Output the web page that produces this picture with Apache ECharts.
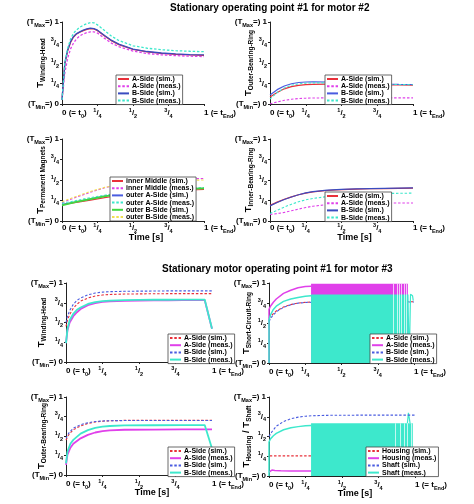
<!DOCTYPE html>
<html><head><meta charset="utf-8">
<script src="https://cdn.jsdelivr.net/npm/echarts@6/dist/echarts.min.js"></script>
<style>html,body{margin:0;padding:0;background:#fff}#c{width:474px;height:504px}</style>
</head><body><div id="c"></div>
<script>
// ---------- tick labels ----------
const xTickValues = [0, 0.25, 0.5, 0.75, 1];
const xTickLabels = ['{n|0 (= t}{s|0}{n|)}', '{sup|1}{sl|/}{sub|4}', '{sup|1}{sl|/}{sub|2}', '{sup|3}{sl|/}{sub|4}', '{n|1 (= t}{s|End}{n|)}'];
const yTickLabels = ['{n|(T}{s|Min}{n|=) 0}', '{sup|1}{sl|/}{sub|4}', '{sup|1}{sl|/}{sub|2}', '{sup|3}{sl|/}{sub|4}', '{n|(T}{s|Max}{n|=) 1}'];
const titles = ['Stationary operating point #1 for motor #2', 'Stationary motor operating point #1 for motor #3'];
const yNames = ['Winding-Head', 'Outer-Bearing-Ring', 'Permanent Magnets', 'Inner-Bearing-Ring', 'Winding-Head', 'Short-Circuit-Ring', 'Outer-Bearing-Ring', 'Housing / Shaft'];

// ---------- panel 1 ----------
const t1 = [0,0.02,0.04,0.06,0.08,0.1,0.125,0.15,0.175,0.2,0.225,0.25,0.3,0.35,0.4,0.5,0.6,0.7,0.8,0.9,1.0];
const p1ASim  = [0.05,0.49,0.65,0.75,0.815,0.85,0.875,0.895,0.91,0.92,0.915,0.895,0.83,0.77,0.725,0.665,0.635,0.617,0.606,0.598,0.592];
const p1AMeas = [0.05,0.38,0.56,0.67,0.74,0.79,0.83,0.855,0.87,0.88,0.88,0.865,0.8,0.74,0.7,0.645,0.615,0.6,0.59,0.583,0.578];
const p1BSim  = [0.05,0.5,0.66,0.76,0.82,0.855,0.88,0.9,0.915,0.925,0.92,0.9,0.835,0.775,0.73,0.67,0.64,0.622,0.611,0.603,0.598];
const p1BMeas = [0.05,0.5,0.68,0.79,0.86,0.9,0.935,0.96,0.98,0.993,0.99,0.965,0.895,0.825,0.775,0.71,0.68,0.662,0.65,0.643,0.638];
// ---------- panel 2 ----------
const t2 = [0,0.05,0.1,0.15,0.2,0.25,0.3,0.4,0.5,0.6,0.7,0.8,0.9,1.0];
const p2ASim  = [0.085,0.14,0.185,0.212,0.228,0.236,0.24,0.242,0.241,0.239,0.236,0.234,0.232,0.231];
const p2AMeas = [0.0,0.025,0.045,0.058,0.066,0.071,0.073,0.075,0.075,0.075,0.075,0.075,0.075,0.075];
const p2BSim  = [0.11,0.175,0.22,0.247,0.262,0.268,0.27,0.268,0.262,0.255,0.249,0.244,0.24,0.238];
const p2BMeas = [0.06,0.14,0.195,0.228,0.246,0.255,0.258,0.258,0.254,0.249,0.244,0.24,0.237,0.235];
// ---------- panel 3 ----------
const t3 = [0,0.1,0.2,0.3,0.4,0.5,0.6,0.7,0.8,0.9,1.0];
const p3InSim   = [0.2,0.225,0.255,0.285,0.31,0.33,0.345,0.36,0.37,0.378,0.385];
const p3InMeas  = [0.225,0.29,0.35,0.405,0.445,0.47,0.488,0.5,0.51,0.515,0.518];
const p3OASim   = [0.2,0.235,0.27,0.305,0.33,0.35,0.365,0.378,0.388,0.395,0.4];
const p3OAMeas  = [0.215,0.25,0.285,0.315,0.34,0.36,0.375,0.388,0.397,0.403,0.408];
const p3OBSim   = [0.19,0.232,0.268,0.3,0.327,0.347,0.362,0.375,0.385,0.392,0.397];
const p3OBMeas  = [0.235,0.3,0.36,0.41,0.44,0.46,0.475,0.485,0.492,0.497,0.5];
// ---------- panel 4 ----------
const t4 = [0,0.05,0.1,0.15,0.2,0.25,0.3,0.4,0.5,0.6,0.7,0.8,0.9,1.0];
const p4ASim  = [0.19,0.23,0.265,0.295,0.32,0.34,0.355,0.372,0.382,0.388,0.393,0.396,0.398,0.4];
const p4AMeas = [0.08,0.09,0.105,0.125,0.145,0.165,0.18,0.2,0.21,0.215,0.218,0.22,0.22,0.22];
const p4BSim  = [0.185,0.225,0.262,0.293,0.32,0.342,0.358,0.376,0.386,0.392,0.396,0.399,0.401,0.403];
const p4BMeas = [0.09,0.13,0.17,0.205,0.235,0.258,0.275,0.298,0.312,0.322,0.33,0.335,0.338,0.34];
// ---------- panel 5 ----------
const t5 = [0,0.01,0.025,0.05,0.075,0.1,0.15,0.2,0.25,0.3,0.4,0.5,0.6,0.7,0.8,0.9,1.0];
const p5ASim = [0.45,0.53,0.6,0.68,0.73,0.77,0.81,0.835,0.848,0.855,0.86,0.862,0.864,0.865,0.865,0.865,0.865];
const p5BSim = [0.5,0.58,0.65,0.73,0.78,0.81,0.85,0.873,0.885,0.89,0.895,0.897,0.898,0.9,0.9,0.9,0.9];
const t5m = [0,0.01,0.025,0.05,0.075,0.1,0.15,0.2,0.25,0.3,0.4,0.5,0.6,0.7,0.8,0.9,0.95,1.0];
const p5AMeas = [0.24,0.4,0.5,0.58,0.63,0.67,0.72,0.745,0.76,0.768,0.775,0.778,0.78,0.78,0.782,0.783,0.783,0.42];
const p5BMeas = [0.24,0.42,0.53,0.61,0.66,0.69,0.735,0.758,0.77,0.777,0.783,0.786,0.788,0.788,0.79,0.79,0.79,0.42];
// ---------- panel 6 ----------
const t6 = [0,0.02,0.05,0.1,0.15,0.2,0.25,0.3,0.4,0.6,0.8,1.0];
const p6ASim = [0.56,0.6,0.65,0.7,0.73,0.75,0.758,0.762,0.765,0.765,0.765,0.765];
const p6BSim = [0.52,0.58,0.64,0.695,0.728,0.748,0.756,0.76,0.762,0.762,0.762,0.762];
const t6m = [0,0,0.01,0.03,0.05,0.1,0.15,0.2,0.25,0.29];
const p6AMeas = [0.0,0.67,0.71,0.76,0.8,0.87,0.91,0.94,0.955,0.96];
const p6BMeas = [0.0,0.54,0.6,0.67,0.71,0.77,0.8,0.82,0.835,0.84];
const t6tail = [0.958,0.966,0.967,0.975,0.976,0.99,0.995];
const p6BTail = [0.855,0.855,0.0,0.0,0.86,0.84,0.78];
const p6BandT = [0.29, 0.958];
const p6ABand = [0.99, 0.99];
const p6BBand = [0.855, 0.855];
const p6Gaps = [0.86, 0.885, 0.9, 0.915, 0.93, 0.945];
// ---------- panel 7 ----------
const t7 = [0,0.02,0.05,0.1,0.15,0.2,0.25,0.3,0.4,0.6,0.8,1.0];
const p7ASim = [0.45,0.52,0.58,0.63,0.66,0.68,0.69,0.695,0.7,0.7,0.7,0.7];
const p7BSim = [0.47,0.54,0.6,0.645,0.67,0.685,0.692,0.696,0.698,0.698,0.698,0.698];
const t7m = [0,0.01,0.03,0.05,0.1,0.15,0.2,0.25,0.3,0.4,0.6,0.8,0.95,1.0];
const p7AMeas = [0.13,0.26,0.35,0.4,0.47,0.515,0.545,0.562,0.572,0.58,0.583,0.585,0.585,0.585];
const p7BMeas = [0.15,0.3,0.4,0.45,0.53,0.575,0.605,0.62,0.628,0.635,0.638,0.64,0.64,0.34];
// ---------- panel 8 ----------
const t8 = [0,0.02,0.05,0.1,0.15,0.2,0.25,0.3,0.4,0.6,0.8,1.0];
const p8ShaftSim = [0.5,0.56,0.63,0.69,0.725,0.745,0.757,0.763,0.768,0.77,0.77,0.77];
const t8h = [0.005,0.1,0.2,0.29,0.5,1.0];
const p8HousSim = [0.255,0.255,0.255,0.255,0.255,0.255];
const t8hm = [0,0.005,0.02,0.04,0.08,0.15,0.29];
const p8HousMeas = [0.05,0.07,0.075,0.07,0.065,0.062,0.062];
const t8sm = [0,0,0.01,0.03,0.05,0.1,0.15,0.2,0.25,0.29];
const p8ShaftMeas = [0,0.43,0.47,0.51,0.54,0.585,0.61,0.625,0.635,0.64];
const t8spike = [0.948,0.955,0.962,0.966];
const p8Spike = [0.67,0.8,0.72,0.67];
const p8BandT = [0.288, 0.985];
const p8Band = [0.667, 0.667];
const p8Gaps = [0.865, 0.9, 0.925, 0.945, 0.975];

// ---------- styles ----------
const F = '"Liberation Sans", Arial, Helvetica, sans-serif';
const RED = '#e8303a', MAG = '#e040ea', BLUE = '#3a4cc0', BLUED = '#4a5ce0', CYAN = '#3de8cc', GREEN = '#40d840', YEL = '#f0e050';
const zip = (t, v) => t.map((x, i) => [x, v[i]]);

const rich = {
  n:  {fontFamily: F, fontWeight: 'bold', fontSize: 8, color: '#000', lineHeight: 12},
  s:  {fontFamily: F, fontWeight: 'bold', fontSize: 5.5, color: '#000', lineHeight: 6, verticalAlign: 'bottom'},
  sup:{fontFamily: F, fontWeight: 'bold', fontSize: 5.5, color: '#000', lineHeight: 6, verticalAlign: 'top'},
  sub:{fontFamily: F, fontWeight: 'bold', fontSize: 5.5, color: '#000', lineHeight: 6, verticalAlign: 'bottom'},
  sl: {fontFamily: F, fontWeight: 'bold', fontSize: 8, color: '#000', lineHeight: 12}
};
const nameRich = {
  tn: {fontFamily: F, fontWeight: 'bold', fontSize: 9.5, color: '#000', lineHeight: 13},
  ts: {fontFamily: F, fontWeight: 'bold', fontSize: 6.5, color: '#000', lineHeight: 7, verticalAlign: 'bottom'}
};
const fmtX = v => { const i = xTickValues.findIndex(a => Math.abs(a - v) < 1e-6); return i < 0 ? '' : xTickLabels[i]; };
const fmtY = v => { const i = xTickValues.findIndex(a => Math.abs(a - v) < 1e-6); return i < 0 ? '' : yTickLabels[i]; };

const grids = [
  {left: 62, top: 22, width: 142, height: 82},
  {left: 270, top: 22, width: 143, height: 82},
  {left: 62, top: 139, width: 142, height: 82},
  {left: 270, top: 139, width: 143, height: 82},
  {left: 66, top: 283, width: 146, height: 79},
  {left: 269, top: 283, width: 145, height: 80},
  {left: 66, top: 397, width: 146, height: 78},
  {left: 269, top: 397, width: 146, height: 79}
];
const showTime = [false, false, true, true, false, false, true, true];
const timeGaps = [0, 0, 12, 12, 0, 0, 13, 13];
const xLabelMargins = [3, 3, 1, 1, 3, 3, 3, 3];
const nameGaps = [15, 15.5, 15, 15.5, 18.5, 16.5, 18.5, 16];

const xAxes = grids.map((g, i) => ({
  gridIndex: i, type: 'value', min: 0, max: 1, interval: 0.25,
  axisLine: {lineStyle: {color: '#222', width: 1}},
  axisTick: {inside: false, length: 2, lineStyle: {color: '#222'}},
  splitLine: {show: false},
  axisLabel: {formatter: fmtX, rich: rich, margin: xLabelMargins[i], showMinLabel: true, showMaxLabel: true, alignMinLabel: 'left', alignMaxLabel: 'left'},
  name: showTime[i] ? 'Time [s]' : '', nameLocation: 'middle', nameGap: timeGaps[i], nameMoveOverlap: false,
  nameTextStyle: {fontFamily: F, fontWeight: 'bold', fontSize: 9, color: '#000', padding: [0, 0, 0, 26]}
}));
const yAxes = grids.map((g, i) => ({
  gridIndex: i, type: 'value', min: 0, max: 1, interval: 0.25,
  axisLine: {show: true, lineStyle: {color: '#222', width: 1}},
  axisTick: {show: true, inside: false, length: 2, lineStyle: {color: '#222'}},
  splitLine: {show: false},
  axisLabel: {formatter: fmtY, rich: rich, margin: 3, showMinLabel: true, showMaxLabel: true},
  name: i === 7 ? '{tn|T}{ts|Housing}{tn| / T}{ts|Shaft}' : '{tn|T}{ts|' + yNames[i] + '}',
  nameLocation: 'middle', nameRotate: 90, nameGap: nameGaps[i], nameMoveOverlap: false,
  nameTextStyle: {rich: nameRich}
}));

function ln(panel, name, data, color, dashed, width, z) {
  return {
    type: 'line', name: 'p' + panel + ':' + name, xAxisIndex: panel - 1, yAxisIndex: panel - 1,
    data: data, symbol: 'none', smooth: false, z: z || 2, silent: true, animation: false,
    lineStyle: {color: color, width: width || 1.1, type: dashed ? [2.5, 1.8] : 'solid'},
    itemStyle: {color: color, opacity: 0}
  };
}
function band(panel, t, v, color, z, gaps, top) {
  const s = {
    type: 'line', xAxisIndex: panel - 1, yAxisIndex: panel - 1, data: zip(t, v), symbol: 'none',
    z: z, silent: true, animation: false,
    lineStyle: {width: 0, color: color}, areaStyle: {color: color, opacity: 1, origin: 'start'}
  };
  if (gaps) {
    s.markLine = {silent: true, symbol: 'none', animation: false, label: {show: false},
      lineStyle: {color: '#fff', width: 0.7, type: 'solid'},
      data: gaps.map(g => [{coord: [g, 0]}, {coord: [g, top]}])};
  }
  return s;
}

const series = [
  ln(1, 'A-Side (sim.)', zip(t1, p1ASim), RED, false, 1.3),
  ln(1, 'A-Side (meas.)', zip(t1, p1AMeas), MAG, true, 1.3),
  ln(1, 'B-Side (sim.)', zip(t1, p1BSim), BLUE, false, 1.3),
  ln(1, 'B-Side (meas.)', zip(t1, p1BMeas), CYAN, true, 1.3),
  ln(2, 'A-Side (sim.)', zip(t2, p2ASim), RED, false, 1.2),
  ln(2, 'A-Side (meas.)', zip(t2, p2AMeas), MAG, true, 1.1),
  ln(2, 'B-Side (sim.)', zip(t2, p2BSim), BLUED, false, 1.2),
  ln(2, 'B-Side (meas.)', zip(t2, p2BMeas), CYAN, true, 1.1),
  ln(3, 'inner Middle (sim.)', zip(t3, p3InSim), RED, false, 1.1),
  ln(3, 'inner Middle (meas.)', zip(t3, p3InMeas), MAG, true, 1.1),
  ln(3, 'outer A-Side (sim.)', zip(t3, p3OASim), BLUED, false, 1.1),
  ln(3, 'outer A-Side (meas.)', zip(t3, p3OAMeas), CYAN, true, 1.1),
  ln(3, 'outer B-Side (sim.)', zip(t3, p3OBSim), GREEN, false, 1.8),
  ln(3, 'outer B-Side (meas.)', zip(t3, p3OBMeas), YEL, true, 1.1),
  ln(4, 'A-Side (sim.)', zip(t4, p4ASim), RED, false, 1.2),
  ln(4, 'A-Side (meas.)', zip(t4, p4AMeas), MAG, true, 1.1),
  ln(4, 'B-Side (sim.)', zip(t4, p4BSim), BLUE, false, 1.2),
  ln(4, 'B-Side (meas.)', zip(t4, p4BMeas), CYAN, true, 1.1),
  ln(5, 'A-Side (sim.)', zip(t5, p5ASim), RED, true, 1.1),
  ln(5, 'A-Side (meas.)', zip(t5m, p5AMeas), MAG, false, 1.8),
  ln(5, 'B-Side (sim.)', zip(t5, p5BSim), BLUED, true, 1.1),
  ln(5, 'B-Side (meas.)', zip(t5m, p5BMeas), CYAN, false, 1.8),
  ln(6, 'A-Side (sim.)', zip(t6, p6ASim), RED, true, 1.1),
  ln(6, 'A-Side (meas.)', zip(t6m, p6AMeas), MAG, false, 1.5),
  ln(6, 'B-Side (sim.)', zip(t6, p6BSim), BLUED, true, 1.1),
  ln(6, 'B-Side (meas.)', zip(t6m, p6BMeas), CYAN, false, 1.5),
  band(6, p6BandT, p6ABand, MAG, 3),
  band(6, p6BandT, p6BBand, CYAN, 3.5, p6Gaps, 0.99),
  ln(6, 'B-tail', zip(t6tail, p6BTail), CYAN, false, 1.2, 4),
  ln(7, 'A-Side (sim.)', zip(t7, p7ASim), RED, true, 1.1),
  ln(7, 'A-Side (meas.)', zip(t7m, p7AMeas), MAG, false, 1.8),
  ln(7, 'B-Side (sim.)', zip(t7, p7BSim), BLUED, true, 1.1),
  ln(7, 'B-Side (meas.)', zip(t7m, p7BMeas), CYAN, false, 1.8),
  ln(8, 'Housing (sim.)', zip(t8h, p8HousSim), RED, true, 1.1),
  ln(8, 'Housing (meas.)', zip(t8hm, p8HousMeas), MAG, false, 1.5),
  ln(8, 'Shaft (sim.)', zip(t8, p8ShaftSim), BLUED, true, 1.1, 5),
  ln(8, 'Shaft (meas.)', zip(t8sm, p8ShaftMeas), CYAN, false, 1.5),
  band(8, p8BandT, p8Band, CYAN, 3.5, p8Gaps, 0.667),
  ln(8, 'spike', zip(t8spike, p8Spike), CYAN, false, 1.2, 4)
];

const legendPos = [
  {left: 116, top: 75}, {left: 325, top: 75}, {left: 110, top: 177}, {left: 325, top: 192},
  {left: 168, top: 334}, {left: 370, top: 334}, {left: 168, top: 447}, {left: 366, top: 447}
];
const legendNames = [
  ['A-Side (sim.)', 'A-Side (meas.)', 'B-Side (sim.)', 'B-Side (meas.)'],
  ['A-Side (sim.)', 'A-Side (meas.)', 'B-Side (sim.)', 'B-Side (meas.)'],
  ['inner Middle (sim.)', 'inner Middle (meas.)', 'outer A-Side (sim.)', 'outer A-Side (meas.)', 'outer B-Side (sim.)', 'outer B-Side (meas.)'],
  ['A-Side (sim.)', 'A-Side (meas.)', 'B-Side (sim.)', 'B-Side (meas.)'],
  ['A-Side (sim.)', 'A-Side (meas.)', 'B-Side (sim.)', 'B-Side (meas.)'],
  ['A-Side (sim.)', 'A-Side (meas.)', 'B-Side (sim.)', 'B-Side (meas.)'],
  ['A-Side (sim.)', 'A-Side (meas.)', 'B-Side (sim.)', 'B-Side (meas.)'],
  ['Housing (sim.)', 'Housing (meas.)', 'Shaft (sim.)', 'Shaft (meas.)']
];
const legends = legendPos.map((p, i) => ({
  left: p.left, top: p.top, orient: 'vertical', selectedMode: false,
  data: legendNames[i].map(n => 'p' + (i + 1) + ':' + n),
  formatter: n => n.slice(n.indexOf(':') + 1),
  itemWidth: 11, itemHeight: 5, itemGap: 0.2,
  padding: [0.5, 2, 0.5, 1],
  itemStyle: {opacity: 0},
  backgroundColor: '#fff', borderColor: '#444', borderWidth: 0.8, borderRadius: 0,
  textStyle: {fontFamily: F, fontWeight: 'bold', fontSize: 7, lineHeight: 6.4, color: '#000', padding: [0, 0, 0, -2]},
  z: 10
}));

const chart = echarts.init(document.getElementById('c'), null, {renderer: 'canvas'});
chart.setOption({
  animation: false,
  backgroundColor: '#fff',
  title: [
    {text: titles[0], left: 170, top: 3, padding: 0, textStyle: {fontFamily: F, fontWeight: 'bold', fontSize: 10, color: '#000'}},
    {text: titles[1], left: 162, top: 264, padding: 0, textStyle: {fontFamily: F, fontWeight: 'bold', fontSize: 10, color: '#000'}}
  ],
  grid: grids,
  xAxis: xAxes,
  yAxis: yAxes,
  legend: legends,
  series: series
});
</script></body></html>
